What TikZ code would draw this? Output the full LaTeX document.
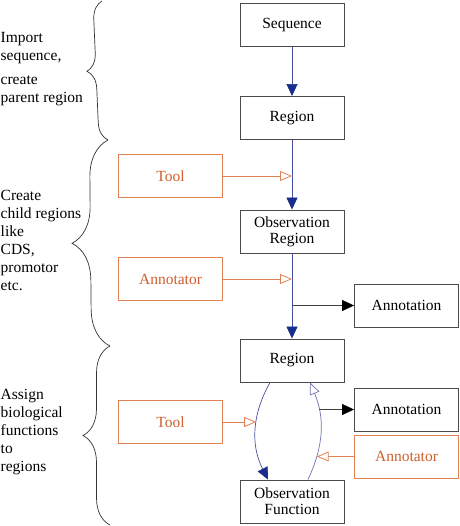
\documentclass[tikz,border=0pt]{standalone}
\usepackage{fontspec}
\setmainfont{Liberation Serif}
\usetikzlibrary{positioning, arrows.meta, decorations.pathreplacing}
\definecolor{linkblue}{RGB}{70,80,155}
\definecolor{headblue}{RGB}{25,45,140}
\definecolor{boxgrey}{RGB}{75,75,75}
\definecolor{toolorange}{RGB}{225,130,85}
\definecolor{tooltext}{RGB}{205,95,45}
\tikzset{
    box/.style = {shape = rectangle, draw = boxgrey, line width = 0.9pt, minimum width = 104pt, minimum height = 43pt, inner sep = 0pt, align = center, font = \fontsize{15.5}{16}\selectfont},
    toolbox/.style = {box, draw = toolorange, text = tooltext},
    note/.style = {anchor = west, align = left, inner sep = 0pt, font = \fontsize{15.5}{18}\selectfont},
    flow/.style = {draw = linkblue, line width = 0.7pt, -{Triangle[length = 12pt, width = 11pt, color = headblue]}},
    backlink/.style = {draw = linkblue!80, line width = 0.7pt, -{Triangle[open, length = 12pt, width = 10pt]}},
    hint/.style = {draw = toolorange, line width = 0.8pt, -{Triangle[open, length = 12pt, width = 10pt]}},
    result/.style = {draw = black!75, line width = 0.8pt, -{Triangle[length = 12pt, width = 11pt, color = black]}},
    curly/.style = {draw = black!80, line width = 0.7pt, decorate, decoration = {brace, amplitude = #1}}
}
\begin{document}
\begin{tikzpicture}[x = 1pt, y = -1pt]
                    \useasboundingbox (0, 0) rectangle (459, 526);
                    \node [box] (seq) at (292, 25) {Sequence};
                    \node [box] (reg) at (292, 118) {Region};
                    \node [box] (obsreg) at (292, 231.5) {Observation\\Region};
                    \node [box] (reg2) at (292, 360.5) {Region};
                    \node [box] (obsfun) at (292, 501.5) {Observation\\Function};
                    \node [box] (annot) at (406.5, 305.5) {Annotation};
                    \node [box] (annot2) at (406.5, 409.5) {Annotation};
                    \node [toolbox] (tool) at (170.5, 176) {Tool};
                    \node [toolbox] (annotator) at (170.5, 279) {Annotator};
                    \node [toolbox] (tool2) at (170.5, 422) {Tool};
                    \node [toolbox] (annotator2) at (406.5, 456.5) {Annotator};

                    \node [note] (import) at (0.5, 48) {Import\\sequence,};
                    \node [note] (parent) at (0.5, 90.5) {create\\parent region};
                    \node [note] (child) at (0.5, 240) {Create\\child regions\\like\\CDS,\\promotor\\etc.};
                    \node [note] (assign) at (0.5, 432) {Assign\\biological\\functions\\to\\regions};

                    \coordinate (b1) at (108, 140);
                    \coordinate (t1) at (102, 1);
                    \coordinate (b2) at (110, 346);
                    \coordinate (b3) at (110, 525);
                    \draw [curly = 18pt] (b1) -- (t1);
                    \draw [curly = 37pt] (b2) -- (b1);
                    \draw [curly = 27pt] (b3) -- (b2);

                    \draw [flow] (seq) -- (reg);
                    \draw [flow] (reg) -- (obsreg);
                    \draw [flow] (obsreg) -- (reg2);
                    \draw [hint] (tool.east) -- (tool.east -| reg.south);
                    \draw [hint] (annotator.east) -- (annotator.east -| obsreg.south);
                    \draw [result] (obsreg.south |- annot.west) -- (annot.west);

                    \draw [flow] ([xshift = -22pt] reg2.south) to [bend right = 28] coordinate [pos = 0.41] (lc) ([xshift = -24pt] obsfun.north);
                    \draw [backlink] ([xshift = 16pt] obsfun.north) to [bend right = 24] coordinate [pos = 0.23] (rl) coordinate [pos = 0.69] (ru) ([xshift = 18pt] reg2.south);
                    \draw [hint] (tool2.east) -- (tool2.east -| lc);
                    \draw [hint] (annotator2.west) -- (annotator2.west -| rl);
                    \draw [result] (ru |- annot2.west) -- (annot2.west);
                \end{tikzpicture}
\end{document}
